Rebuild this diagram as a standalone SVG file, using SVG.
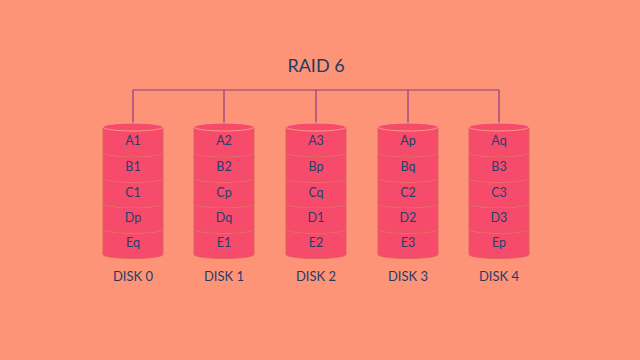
<svg xmlns="http://www.w3.org/2000/svg" width="640" height="360" viewBox="0 0 640 360">
<defs>
<style>
.bg{fill:#FE9477}
.body{fill:#F64B6B;stroke:#D9605A;stroke-width:0.8}
.top{fill:#F64B6B;stroke:#FF9A88;stroke-width:1}
.t{font-family:"Lato","Liberation Sans",sans-serif;font-size:12.5px;fill:#24406E;text-anchor:middle}
.lbl{font-family:"Lato","Liberation Sans",sans-serif;font-size:13px;fill:#1F3A68;text-anchor:middle}
.title{font-family:"Lato","Liberation Sans",sans-serif;font-size:18px;fill:#1F3A68;text-anchor:middle}
.ln{stroke:#8E3A85;stroke-width:1.2;fill:none}
</style>
<g id="seg">
<path class="body" d="M-30,0 L-30,25.5 A30,4 0 0 0 30,25.5 L30,0 Z"/>
<ellipse class="top" cx="0" cy="0" rx="30" ry="4"/>
</g>
</defs>
<rect class="bg" x="0" y="0" width="640" height="360"/>
<text class="title" x="316" y="72">RAID 6</text>
<g id="connectors">
<path class="ln" d="M133,90 H499 M133,90 V123 M224,90 V123 M316,90 V123 M408,90 V123 M499,90 V123"/>
</g>
<g id="disk0">
<use href="#seg" x="133" y="229"/><use href="#seg" x="133" y="203.5"/><use href="#seg" x="133" y="178"/><use href="#seg" x="133" y="152.5"/><use href="#seg" x="133" y="127"/>
<text class="t" x="133" y="145">A1</text><text class="t" x="133" y="171">B1</text><text class="t" x="133" y="197">C1</text><text class="t" x="133" y="222">Dp</text><text class="t" x="133" y="247">Eq</text>
<text class="lbl" x="133" y="281">DISK 0</text>
</g>
<g id="disk1">
<use href="#seg" x="224" y="229"/><use href="#seg" x="224" y="203.5"/><use href="#seg" x="224" y="178"/><use href="#seg" x="224" y="152.5"/><use href="#seg" x="224" y="127"/>
<text class="t" x="224" y="145">A2</text><text class="t" x="224" y="171">B2</text><text class="t" x="224" y="197">Cp</text><text class="t" x="224" y="222">Dq</text><text class="t" x="224" y="247">E1</text>
<text class="lbl" x="224" y="281">DISK 1</text>
</g>
<g id="disk2">
<use href="#seg" x="316" y="229"/><use href="#seg" x="316" y="203.5"/><use href="#seg" x="316" y="178"/><use href="#seg" x="316" y="152.5"/><use href="#seg" x="316" y="127"/>
<text class="t" x="316" y="145">A3</text><text class="t" x="316" y="171">Bp</text><text class="t" x="316" y="197">Cq</text><text class="t" x="316" y="222">D1</text><text class="t" x="316" y="247">E2</text>
<text class="lbl" x="316" y="281">DISK 2</text>
</g>
<g id="disk3">
<use href="#seg" x="408" y="229"/><use href="#seg" x="408" y="203.5"/><use href="#seg" x="408" y="178"/><use href="#seg" x="408" y="152.5"/><use href="#seg" x="408" y="127"/>
<text class="t" x="408" y="145">Ap</text><text class="t" x="408" y="171">Bq</text><text class="t" x="408" y="197">C2</text><text class="t" x="408" y="222">D2</text><text class="t" x="408" y="247">E3</text>
<text class="lbl" x="408" y="281">DISK 3</text>
</g>
<g id="disk4">
<use href="#seg" x="499" y="229"/><use href="#seg" x="499" y="203.5"/><use href="#seg" x="499" y="178"/><use href="#seg" x="499" y="152.5"/><use href="#seg" x="499" y="127"/>
<text class="t" x="499" y="145">Aq</text><text class="t" x="499" y="171">B3</text><text class="t" x="499" y="197">C3</text><text class="t" x="499" y="222">D3</text><text class="t" x="499" y="247">Ep</text>
<text class="lbl" x="499" y="281">DISK 4</text>
</g>
</svg>
